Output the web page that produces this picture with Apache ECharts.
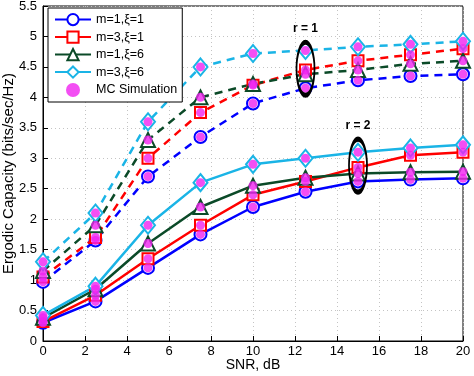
<!DOCTYPE html>
<html>
<head>
<meta charset="utf-8">
<script src="https://cdn.jsdelivr.net/npm/echarts@6/dist/echarts.min.js"></script>
<style>
  html, body { margin: 0; padding: 0; background: #fff; }
  #chart { width: 474px; height: 376px; }
</style>
</head>
<body>
<div id="chart"></div>
<script>
// SNR points (dB)
const snr = [0, 2.5, 5, 7.5, 10, 12.5, 15, 17.5, 20]

// r = 1 (dashed)
const r1_m1x1 = [0.97, 1.65, 2.7, 3.35, 3.9, 4.15, 4.28, 4.35, 4.38]
const r1_m3x1 = [1.05, 1.7, 3.0, 3.75, 4.2, 4.45, 4.6, 4.7, 4.8]
const r1_m1x6 = [1.15, 1.9, 3.3, 4.0, 4.22, 4.38, 4.45, 4.55, 4.6]
const r1_m3x6 = [1.3, 2.1, 3.6, 4.5, 4.72, 4.77, 4.83, 4.87, 4.92]

// r = 2 (solid)
const r2_m1x1 = [0.3, 0.65, 1.2, 1.75, 2.2, 2.45, 2.62, 2.65, 2.67]
const r2_m3x1 = [0.32, 0.75, 1.35, 1.9, 2.4, 2.62, 2.85, 3.05, 3.1]
const r2_m1x6 = [0.38, 0.85, 1.6, 2.2, 2.55, 2.68, 2.75, 2.77, 2.78]
const r2_m3x6 = [0.42, 0.9, 1.9, 2.6, 2.9, 3.0, 3.1, 3.17, 3.22]

// ellipse annotations: [snr, capacity, label]
const rMarks = [[12.5, 4.47, 'r = 1'], [15, 2.88, 'r = 2']]

const names = ['m=1,ξ=1', 'm=3,ξ=1', 'm=1,ξ=6', 'm=3,ξ=6']
const colors = ['#0000ff', '#ff0000', '#0b4a28', '#1ab4e6']
const symbols = ['emptyCircle', 'emptyRect', 'emptyTriangle', 'emptyDiamond']
const symSizes = [12, 11, 14, [14, 17]]
const mcColor = '#f022f0'

const pairs = (ys) => snr.map((x, i) => [x, ys[i]])
const r1 = [r1_m1x1, r1_m3x1, r1_m1x6, r1_m3x6]
const r2 = [r2_m1x1, r2_m3x1, r2_m1x6, r2_m3x6]

const series = []
r2.forEach((ys, k) => {
  series.push({
    name: names[k], type: 'line', data: pairs(ys),
    symbol: symbols[k], symbolSize: symSizes[k],
    color: colors[k],
    lineStyle: { width: 2.5, color: colors[k] },
    itemStyle: { color: colors[k], borderWidth: 2.2 },
    z: 3
  })
})
r1.forEach((ys, k) => {
  series.push({
    name: names[k] + ' r1', type: 'line', data: pairs(ys),
    symbol: symbols[k], symbolSize: symSizes[k],
    lineStyle: { width: 2.5, color: colors[k], type: [8, 6] },
    itemStyle: { color: colors[k], borderWidth: 2.2 },
    z: 3
  })
})
const mcData = []
r1.concat(r2).forEach((ys) => ys.forEach((y, i) => mcData.push([snr[i], y])))
series.push({
  name: 'MC Simulation', type: 'scatter', data: mcData,
  symbol: 'circle', symbolSize: 9,
  itemStyle: { color: mcColor }, z: 5
})
series.push({
  name: 'ellipse', type: 'scatter',
  data: rMarks.map((m) => ({ value: [m[0], m[1]], label: { formatter: m[2] } })),
  symbol: 'circle', symbolSize: [18, 53],
  itemStyle: { color: 'rgba(0,0,0,0)', borderColor: '#000', borderWidth: 3, opacity: 1 },
  label: {
    show: true, position: 'top', distance: 5,
    color: '#000', fontWeight: 'bold', fontSize: 12, fontFamily: 'Liberation Sans'
  },
  silent: true, z: 6
})

const axisCommon = {
  axisLine: { show: true, onZero: false, lineStyle: { color: '#000', width: 1 } },
  axisTick: { show: true, inside: true, length: 5, lineStyle: { color: '#000' } },
  splitLine: { show: true, lineStyle: { color: '#c4c4c4', type: [1, 3], width: 1 } },
  nameMoveOverlap: false
}
const labelFont = { color: '#000', fontSize: 13, fontFamily: 'Liberation Sans' }

const chart = echarts.init(document.getElementById('chart'), null, { renderer: 'canvas' })
chart.setOption({
  animation: false,
  backgroundColor: '#fff',
  grid: {
    left: 43, right: 11, top: 6, bottom: 35,
    containLabel: false, outerBoundsMode: 'none',
    show: true, borderColor: '#000', borderWidth: 1
  },
  legend: {
    data: names.map((n) => ({ name: n })).concat([{ name: 'MC Simulation', icon: 'circle', itemStyle: { color: mcColor } }]),
    orient: 'vertical', left: 48, top: 8,
    backgroundColor: '#fff', borderColor: '#000', borderWidth: 1,
    padding: [5, 5, 5, 6], itemGap: 4.3, itemWidth: 36, itemHeight: 14,
    textStyle: { color: '#000', fontSize: 12.5, fontFamily: 'Liberation Sans' }
  },
  xAxis: {
    type: 'value', min: 0, max: 20, interval: 2,
    name: 'SNR, dB', nameLocation: 'middle', nameGap: 17,
    nameTextStyle: { color: '#000', fontSize: 14, fontFamily: 'Liberation Sans', verticalAlign: 'top' },
    axisLabel: { ...labelFont, margin: 4 },
    ...axisCommon
  },
  yAxis: {
    type: 'value', min: 0, max: 5.5, interval: 0.5,
    name: 'Ergodic Capacity (bits/sec/Hz)', nameLocation: 'middle', nameGap: 27,
    nameTextStyle: { color: '#000', fontSize: 15, fontFamily: 'Liberation Sans' },
    axisLabel: { ...labelFont, margin: 6 },
    ...axisCommon
  },
  series
})
</script>
</body>
</html>
